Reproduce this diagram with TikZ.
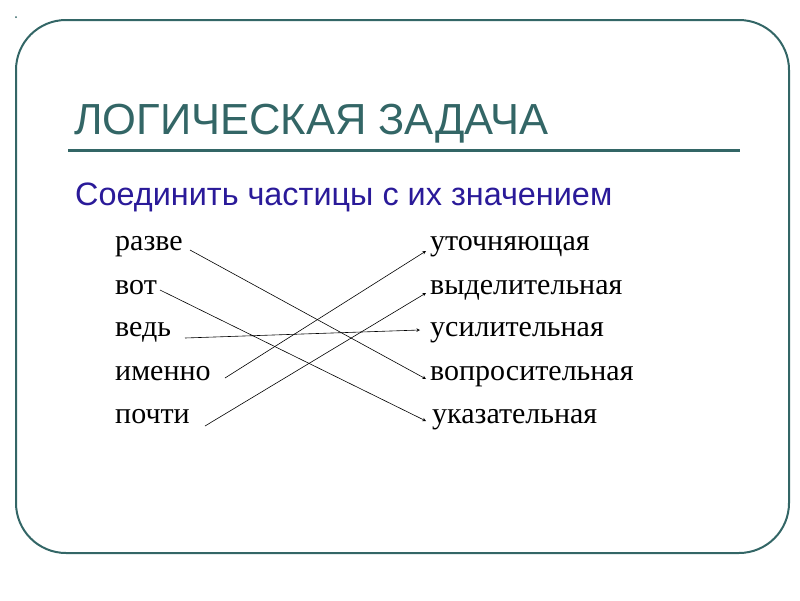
\documentclass[tikz,border=0pt]{standalone}
\usepackage{fontspec}
\setmainfont{Liberation Serif}
\setsansfont{Liberation Sans}
\definecolor{frame}{HTML}{336666}
\definecolor{navy}{HTML}{2A1A99}
\begin{document}
\begin{tikzpicture}[x=1pt,y=-1pt,
    >=stealth,
    word/.style={anchor=base west,inner sep=0pt,font=\fontsize{30}{34}\selectfont},
    link/.style={->,semithick}
    ]
    \useasboundingbox (0,0) rectangle (800,600);
    \draw[frame,line width=2pt,rounded corners=50pt] (16,20) rectangle (789,553);
    \fill[frame] (16,17) circle (1);
    \node[anchor=base west,inner sep=0pt,text=frame,font=\sffamily\fontsize{43.5}{48}\selectfont] (title) at (74,134) {ЛОГИЧЕСКАЯ ЗАДАЧА};
    \draw[frame,line width=3pt] (68,150) -- (740,150);
    \node[anchor=base west,inner sep=0pt,text=navy,font=\sffamily\fontsize{32.4}{36}\selectfont] (task) at (75,205) {Соединить частицы с их значением};
    % left column
    \node[word] (razve) at (115,250) {разве};
    \node[word] (vot) at (115,294) {вот};
    \node[word] (ved) at (115,336) {ведь};
    \node[word] (imenno) at (115,380) {именно};
    \node[word] (pochti) at (115,423) {почти};
    % right column
    \node[word] (utoch) at (430,250) {уточняющая};
    \node[word] (vydel) at (430,294) {выделительная};
    \node[word] (usil) at (430,336) {усилительная};
    \node[word] (vopros) at (430,380) {вопросительная};
    \node[word] (ukaz) at (432,423) {указательная};
    \coordinate (a1) at (190,250); \coordinate (b1) at (426,379);
    \coordinate (a2) at (160,290); \coordinate (b2) at (426,421);
    \coordinate (a3) at (185,338); \coordinate (b3) at (420,330);
    \coordinate (a4) at (225,378); \coordinate (b4) at (426,251);
    \coordinate (a5) at (205,426); \coordinate (b5) at (426,293);
    \foreach \i in {1,...,5}
        \draw[link] (a\i) -- (b\i);
\end{tikzpicture}
\end{document}
